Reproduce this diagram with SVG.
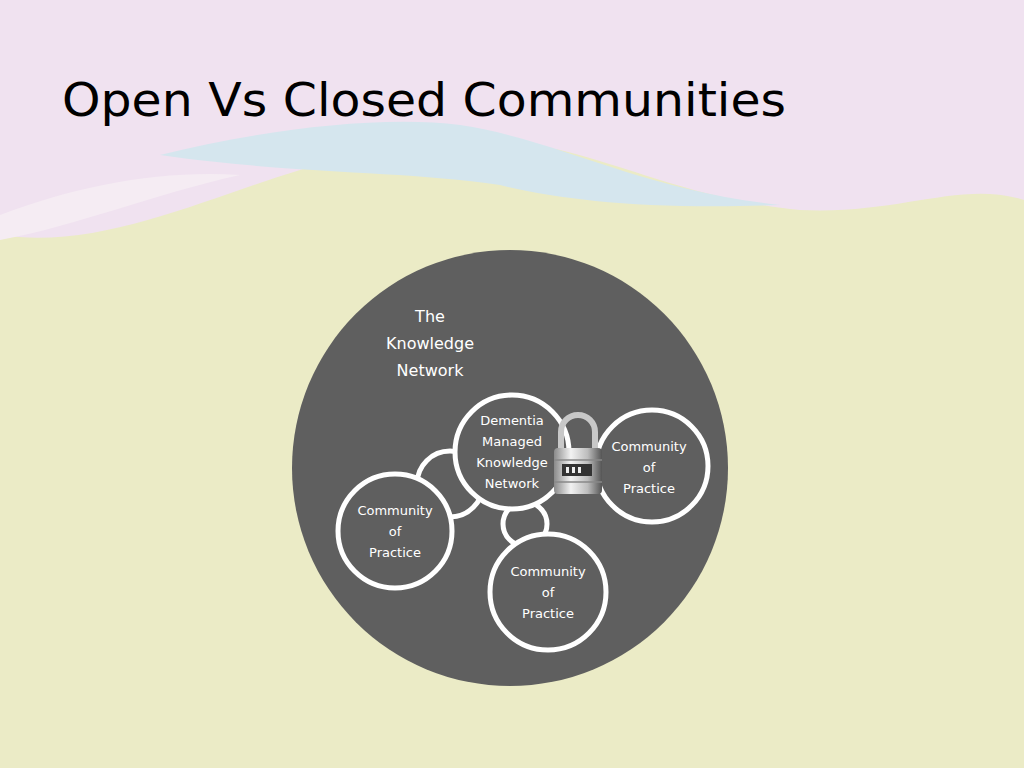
<svg xmlns="http://www.w3.org/2000/svg" width="1024" height="768" viewBox="0 0 1024 768">
<defs>
<style>
.node{fill:#5f5f5f;stroke:#fff;stroke-width:5}
.link{fill:none;stroke:#fff;stroke-width:5}
.t{font-family:"DejaVu Sans","Liberation Sans",sans-serif;fill:#fff;font-size:13px;text-anchor:middle}
.big{font-size:16px}
</style>
<linearGradient id="metal" x1="0" y1="0" x2="1" y2="0">
<stop offset="0" stop-color="#8a8a8a"/><stop offset="0.35" stop-color="#f2f2f2"/><stop offset="0.7" stop-color="#bdbdbd"/><stop offset="1" stop-color="#555"/>
</linearGradient>
</defs>
<rect width="1024" height="768" fill="#ebebc6"/>
<path d="M0 0H1024V200C960 180 900 215 800 210C700 200 640 170 560 150C470 130 380 140 300 170C200 200 100 250 0 235Z" fill="#f0e2f0"/>
<path d="M160 155C260 130 380 115 460 125C560 140 640 190 780 205C650 210 560 200 500 185C400 170 300 175 160 155Z" fill="#d5e6ee"/>
<path d="M0 215C80 185 160 170 240 175C150 195 80 225 0 240Z" fill="#f5ecf3"/>
<text x="62" y="116" font-family="'DejaVu Sans','Liberation Sans',sans-serif" font-size="46" fill="#000" textLength="724" lengthAdjust="spacingAndGlyphs">Open Vs Closed Communities</text>
<circle id="network" cx="510" cy="468" r="218" fill="#5f5f5f"/>
<g id="label">
<text class="t big" x="430" y="322">The</text>
<text class="t big" x="430" y="349">Knowledge</text>
<text class="t big" x="430" y="376">Network</text>
</g>
<g id="connectors">
<circle class="link" cx="450" cy="484" r="33"/>
<circle class="link" cx="525" cy="524" r="22"/>
</g>
<g id="center"><circle class="node" cx="512" cy="452" r="57"/>
<text class="t" x="512" y="425">Dementia</text><text class="t" x="512" y="446">Managed</text><text class="t" x="512" y="467">Knowledge</text><text class="t" x="512" y="488">Network</text></g>
<g id="left"><circle class="node" cx="395" cy="531" r="57"/>
<text class="t" x="395" y="515">Community</text><text class="t" x="395" y="536">of</text><text class="t" x="395" y="557">Practice</text></g>
<g id="bottom"><circle class="node" cx="548" cy="592" r="58"/>
<text class="t" x="548" y="576">Community</text><text class="t" x="548" y="597">of</text><text class="t" x="548" y="618">Practice</text></g>
<g id="right"><circle class="node" cx="652" cy="466" r="56"/>
<text class="t" x="649" y="451">Community</text><text class="t" x="649" y="472">of</text><text class="t" x="649" y="493">Practice</text></g>
<g id="lock">
<path d="M561 450V432A17 17 0 0 1 595 432V450" fill="none" stroke="#c8c8c8" stroke-width="6"/>
<rect x="554" y="448" width="48" height="46" rx="4" fill="url(#metal)"/>
<line x1="554" y1="460" x2="602" y2="460" stroke="#888" stroke-width="1.5"/>
<line x1="554" y1="482" x2="602" y2="482" stroke="#888" stroke-width="1.5"/>
<rect x="562" y="464" width="30" height="12" fill="#333"/>
<rect x="566" y="467" width="3" height="6" fill="#eee"/><rect x="572" y="467" width="3" height="6" fill="#eee"/><rect x="578" y="467" width="3" height="6" fill="#eee"/>
</g>
</svg>
